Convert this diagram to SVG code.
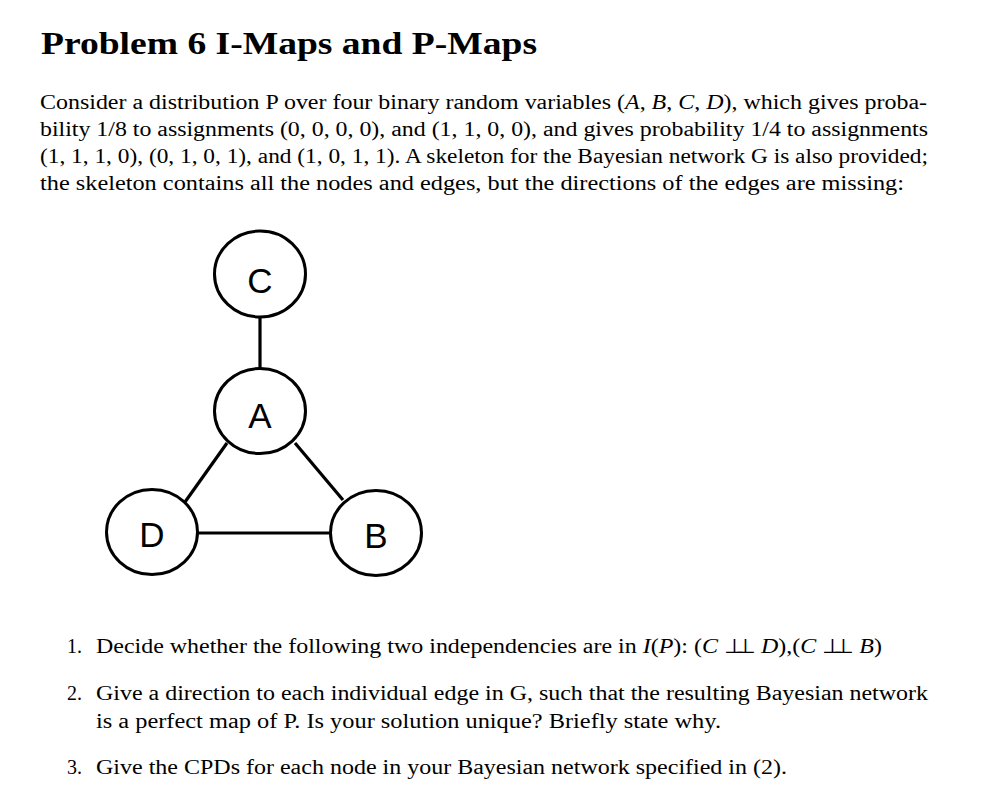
<svg xmlns="http://www.w3.org/2000/svg" width="992" height="812" viewBox="0 0 992 812">
<style>
.bg{fill:#ffffff}
.t{font-family:"Liberation Serif","Times New Roman",serif;font-size:20px;fill:#000}
.title{font-family:"Liberation Serif","Times New Roman",serif;font-size:32px;font-weight:bold;fill:#000}
.i{font-style:italic}
.ind{letter-spacing:-8px}
.node ellipse{fill:#fff;stroke:#000;stroke-width:3}
.node text{font-family:"Liberation Sans",Arial,sans-serif;font-size:35px;fill:#000;text-anchor:middle}
.edges line{stroke:#000;stroke-width:3.2}
</style>
<rect class="bg" x="0" y="0" width="992" height="812"/>
<text class="title" x="41" y="54" textLength="496" lengthAdjust="spacingAndGlyphs">Problem 6 I-Maps and P-Maps</text>
<g id="intro">
<text class="t" x="40" y="109" textLength="887" lengthAdjust="spacingAndGlyphs">Consider a distribution P over four binary random variables (<tspan class="i">A</tspan>, <tspan class="i">B</tspan>, <tspan class="i">C</tspan>, <tspan class="i">D</tspan>), which gives proba-</text>
<text class="t" x="40" y="136" textLength="888" lengthAdjust="spacingAndGlyphs">bility 1/8 to assignments (0, 0, 0, 0), and (1, 1, 0, 0), and gives probability 1/4 to assignments</text>
<text class="t" x="40" y="163" textLength="888" lengthAdjust="spacingAndGlyphs">(1, 1, 1, 0), (0, 1, 0, 1), and (1, 0, 1, 1). A skeleton for the Bayesian network G is also provided;</text>
<text class="t" x="40" y="190" textLength="864" lengthAdjust="spacingAndGlyphs">the skeleton contains all the nodes and edges, but the directions of the edges are missing:</text>
</g>
<g class="edges" id="connectors">
<line x1="260" y1="316" x2="260" y2="370"/>
<line x1="227" y1="443" x2="185" y2="502"/>
<line x1="295" y1="443" x2="343" y2="500"/>
<line x1="197" y1="533" x2="331" y2="533"/>
</g>
<g class="node" id="node-C">
<ellipse cx="260" cy="274" rx="45.5" ry="43"/>
<text x="260" y="293">C</text>
</g>
<g class="node" id="node-A">
<ellipse cx="260" cy="411" rx="45.5" ry="42.5"/>
<text x="260" y="428">A</text>
</g>
<g class="node" id="node-D">
<ellipse cx="152" cy="532" rx="45.5" ry="42.5"/>
<text x="152" y="547">D</text>
</g>
<g class="node" id="node-B">
<ellipse cx="376" cy="533" rx="45.5" ry="42.5"/>
<text x="376" y="548">B</text>
</g>
<g id="questions">
<text class="t" x="67" y="653">1.</text>
<text class="t" x="96" y="653" textLength="786" lengthAdjust="spacingAndGlyphs">Decide whether the following two independencies are in <tspan class="i">I</tspan>(<tspan class="i">P</tspan>): (<tspan class="i">C</tspan> <tspan class="ind">⊥</tspan>⊥ <tspan class="i">D</tspan>),(<tspan class="i">C</tspan> <tspan class="ind">⊥</tspan>⊥ <tspan class="i">B</tspan>)</text>
<text class="t" x="67" y="700">2.</text>
<text class="t" x="96" y="700" textLength="832" lengthAdjust="spacingAndGlyphs">Give a direction to each individual edge in G, such that the resulting Bayesian network</text>
<text class="t" x="96" y="728" textLength="625" lengthAdjust="spacingAndGlyphs">is a perfect map of P. Is your solution unique? Briefly state why.</text>
<text class="t" x="67" y="774">3.</text>
<text class="t" x="96" y="774" textLength="691" lengthAdjust="spacingAndGlyphs">Give the CPDs for each node in your Bayesian network specified in (2).</text>
</g>
</svg>
